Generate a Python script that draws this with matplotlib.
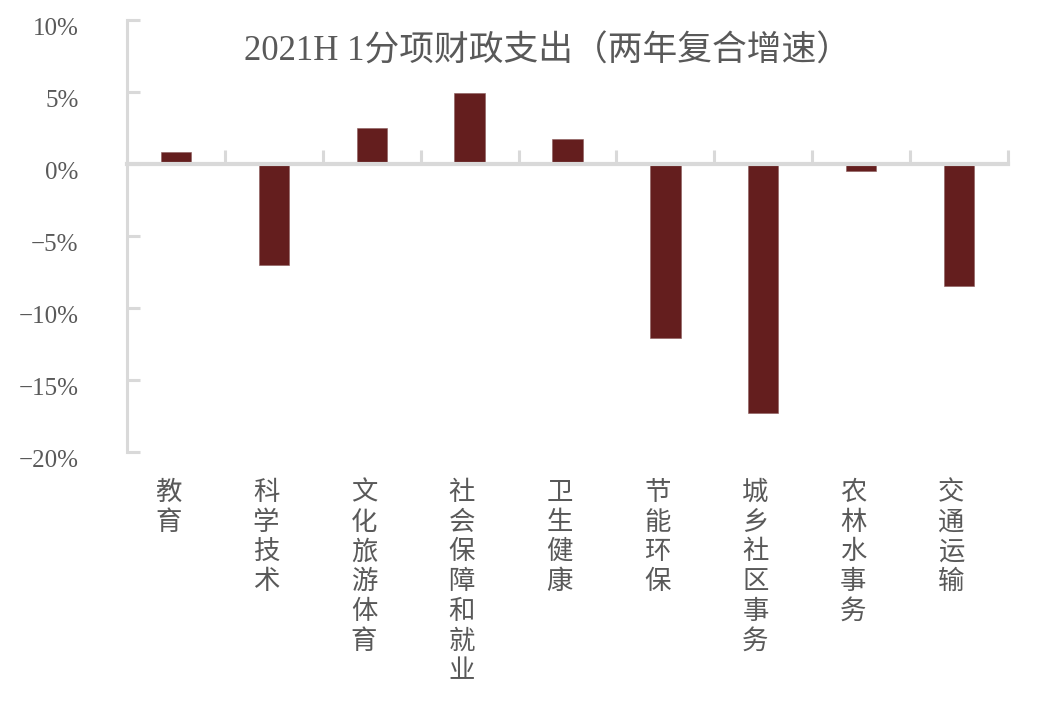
import matplotlib
matplotlib.use("Agg")
import matplotlib.pyplot as plt
import matplotlib.transforms as mtransforms
import numpy as np

categories = ["教育", "科学技术", "文化旅游体育", "社会保障和就业", "卫生健康",
              "节能环保", "城乡社区事务", "农林水事务", "交通运输"]
growth = [0.8, -7.0, 2.5, 4.9, 1.75, -12.1, -17.3, -0.5, -8.5]
yticks = [10, 5, 0, -5, -10, -15, -20]
ytick_labels = ["10%", "5%", "0%", "\u22125%", "\u221210%", "\u221215%", "\u221220%"]
title = "2021H 1分项财政支出（两年复合增速）"

plt.rcParams["font.family"] = ["Liberation Serif", "Noto Sans CJK SC"]

grey = "#d9d9d9"
text_col = "#595959"
bar_col = "#641e1e"

fig = plt.figure(figsize=(10.37, 7.03), dpi=100)
ax = fig.add_axes([127 / 1037, 1 - 452 / 703, (1008 - 127) / 1037, 432 / 703])

x = np.arange(len(categories))
ax.bar(x, growth, width=0.31, color=bar_col, edgecolor="#8a5a5a", linewidth=0.4, zorder=2)

ax.set_xlim(-0.5, len(categories) - 0.5)
ax.set_ylim(-20, 10)

for s in ["top", "right"]:
    ax.spines[s].set_visible(False)
ax.spines["left"].set_color(grey)
ax.spines["left"].set_linewidth(2.2)
ax.spines["bottom"].set_position(("data", 0))
ax.spines["bottom"].set_color(grey)
ax.spines["bottom"].set_linewidth(3)
ax.spines["bottom"].set_zorder(3)

ax.set_yticks(yticks)
ax.set_yticklabels(ytick_labels, fontsize=18, color=text_col)
ax.tick_params(axis="y", direction="in", length=9, width=2.2, color=grey, pad=35)
# labels sit a little below their ticks in the original
shift = mtransforms.ScaledTranslation(0, -5 / 72, fig.dpi_scale_trans)
for lbl in ax.get_yticklabels():
    lbl.set_transform(lbl.get_transform() + shift)

ax.set_xticks(x)
ax.set_xticklabels([])
ax.tick_params(axis="x", which="major", length=0)
ax.set_xticks(np.arange(-0.5, len(categories)), minor=True)
ax.tick_params(axis="x", which="minor", direction="in", length=10, width=2.2, color=grey)

trans = mtransforms.blended_transform_factory(ax.transData, fig.transFigure)
for i, name in enumerate(categories):
    ax.text(i - 0.08, 1 - 479 / 703, "\n".join(name), transform=trans,
            ha="center", va="top", fontsize=19, color=text_col,
            family="Noto Sans CJK SC", linespacing=1.13)

fig.text(548 / 1037, 1 - 52 / 703, title, ha="center", va="center",
         fontsize=25, color=text_col)

fig.savefig("out.png", dpi=100)
